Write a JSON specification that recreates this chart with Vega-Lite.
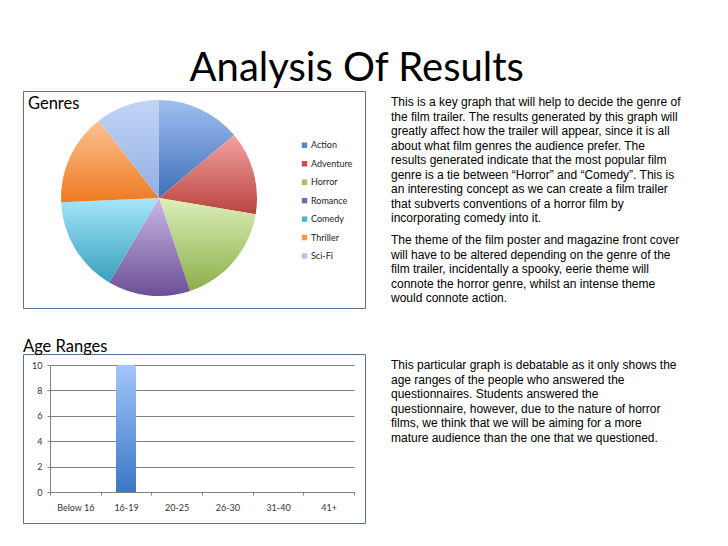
{
  "$schema": "https://vega.github.io/schema/vega-lite/v6.json",
  "background": "white",
  "padding": {"left": 22, "top": 48, "right": 0, "bottom": 0},
  "title": {"text": "Analysis Of Results", "font": "Lato", "fontSize": 40, "fontWeight": "normal", "color": "black", "anchor": "middle", "offset": 2},
  "config": {"view": {"stroke": null}, "font": "Lato"},
  "spacing": 25,
  "hconcat": [
    {
      "spacing": 29,
      "vconcat": [
        {
          "width": 342,
          "height": 217,
          "view": {"stroke": "#5A7190", "strokeWidth": 1},
          "title": {"text": "Genres", "anchor": "start", "frame": "group", "font": "Lato", "fontSize": 16.5, "fontWeight": "normal", "color": "black", "offset": -21, "dx": 5},
          "data": {"values": [
            {"genre": "Action", "value": 50},
            {"genre": "Adventure", "value": 49.5},
            {"genre": "Horror", "value": 62},
            {"genre": "Romance", "value": 49},
            {"genre": "Comedy", "value": 57},
            {"genre": "Thriller", "value": 54.5},
            {"genre": "Sci-Fi", "value": 38}
          ]},
          "transform": [
            {"window": [{"op": "row_number", "as": "rank"}]},
            {"stack": "value", "groupby": [], "sort": [{"field": "rank", "order": "ascending"}], "as": ["v0", "v1"]}
          ],
          "encoding": {
            "theta": {"field": "v0", "type": "quantitative", "scale": {"domain": [0, 360], "nice": false}},
            "theta2": {"field": "v1"}
          },
          "layer": [
            {
              "mark": {"type": "arc", "outerRadius": 98, "xOffset": -35, "yOffset": -1.5, "opacity": 0},
              "encoding": {
                "color": {
                  "field": "genre", "type": "nominal",
                  "sort": ["Action", "Adventure", "Horror", "Romance", "Comedy", "Thriller", "Sci-Fi"],
                  "scale": {
                    "domain": ["Action", "Adventure", "Horror", "Romance", "Comedy", "Thriller", "Sci-Fi"],
                    "range": ["#5A87CA", "#C8504D", "#A3C464", "#8066A8", "#4DB5D5", "#F59A4A", "#AFC5EE"]
                  },
                  "legend": {"title": null, "orient": "none", "legendX": 277, "legendY": 49.8, "symbolType": "square", "symbolSize": 30, "symbolStrokeWidth": 0, "symbolOpacity": 1, "labelFont": "Lato", "labelFontSize": 9, "labelColor": "#222222", "rowPadding": 8.45, "labelOffset": 2}
                }
              }
            },
            {
              "transform": [{"filter": "datum.genre === 'Action'"}],
              "mark": {"type": "arc", "outerRadius": 98, "xOffset": -35, "yOffset": -1.5, "color": {"gradient": "linear", "x1": 0, "y1": 0, "x2": 0, "y2": 1, "stops": [{"offset": 0, "color": "#A0BEF0"}, {"offset": 1, "color": "#3F6FB8"}]}}
            },
            {
              "transform": [{"filter": "datum.genre === 'Adventure'"}],
              "mark": {"type": "arc", "outerRadius": 98, "xOffset": -35, "yOffset": -1.5, "color": {"gradient": "linear", "x1": 0, "y1": 0, "x2": 0, "y2": 1, "stops": [{"offset": 0, "color": "#F3A3A1"}, {"offset": 1, "color": "#B8433F"}]}}
            },
            {
              "transform": [{"filter": "datum.genre === 'Horror'"}],
              "mark": {"type": "arc", "outerRadius": 98, "xOffset": -35, "yOffset": -1.5, "color": {"gradient": "linear", "x1": 0, "y1": 0, "x2": 0, "y2": 1, "stops": [{"offset": 0, "color": "#DCEFB8"}, {"offset": 1, "color": "#8CAF48"}]}}
            },
            {
              "transform": [{"filter": "datum.genre === 'Romance'"}],
              "mark": {"type": "arc", "outerRadius": 98, "xOffset": -35, "yOffset": -1.5, "color": {"gradient": "linear", "x1": 0, "y1": 0, "x2": 0, "y2": 1, "stops": [{"offset": 0, "color": "#C8B8E6"}, {"offset": 1, "color": "#6C4F95"}]}}
            },
            {
              "transform": [{"filter": "datum.genre === 'Comedy'"}],
              "mark": {"type": "arc", "outerRadius": 98, "xOffset": -35, "yOffset": -1.5, "color": {"gradient": "linear", "x1": 0, "y1": 0, "x2": 0, "y2": 1, "stops": [{"offset": 0, "color": "#A5E6FA"}, {"offset": 1, "color": "#37A0BE"}]}}
            },
            {
              "transform": [{"filter": "datum.genre === 'Thriller'"}],
              "mark": {"type": "arc", "outerRadius": 98, "xOffset": -35, "yOffset": -1.5, "color": {"gradient": "linear", "x1": 0, "y1": 0, "x2": 0, "y2": 1, "stops": [{"offset": 0, "color": "#FDC291"}, {"offset": 1, "color": "#EE7A20"}]}}
            },
            {
              "transform": [{"filter": "datum.genre === 'Sci-Fi'"}],
              "mark": {"type": "arc", "outerRadius": 98, "xOffset": -35, "yOffset": -1.5, "color": {"gradient": "linear", "x1": 0, "y1": 0, "x2": 0, "y2": 1, "stops": [{"offset": 0, "color": "#C3D5F6"}, {"offset": 1, "color": "#92AEE4"}]}}
            }
          ]
        },
        {
          "width": 342,
          "height": 169,
          "view": {"stroke": "#5A7190", "strokeWidth": 1},
          "title": {"text": "Age Ranges", "anchor": "start", "frame": "group", "font": "Lato", "fontSize": 16.5, "fontWeight": "normal", "color": "black", "offset": -1, "dx": 0},
          "data": {"values": [
            {"age": "Below 16", "count": 0},
            {"age": "16-19", "count": 10},
            {"age": "20-25", "count": 0},
            {"age": "26-30", "count": 0},
            {"age": "31-40", "count": 0},
            {"age": "41+", "count": 0}
          ]},
          "mark": {
            "type": "bar",
            "width": {"band": 0.4},
            "cornerRadiusTopLeft": 3,
            "cornerRadiusTopRight": 3,
            "color": {"gradient": "linear", "x1": 0, "y1": 0, "x2": 0, "y2": 1, "stops": [{"offset": 0, "color": "#A3C6FA"}, {"offset": 1, "color": "#3A77C6"}]}
          },
          "encoding": {
            "x": {
              "field": "age", "type": "ordinal", "sort": null,
              "scale": {"range": [27, 331], "paddingInner": 0, "paddingOuter": 0},
              "axis": {"title": null, "tickBand": "extent", "offset": -31, "domainColor": "#808080", "tickColor": "#808080", "tickSize": 3, "labelFont": "Lato", "labelFontSize": 9, "labelColor": "#333333", "labelPadding": 8, "labelAngle": 0, "grid": false}
            },
            "y": {
              "field": "count", "type": "quantitative",
              "scale": {"domain": [0, 10], "range": [138, 11], "nice": false},
              "axis": {"title": null, "values": [0, 2, 4, 6, 8, 10], "offset": -27, "grid": true, "gridColor": "#808080", "domainColor": "#808080", "tickColor": "#808080", "tickSize": 3, "labelFont": "Lato", "labelFontSize": 9, "labelColor": "#333333", "labelPadding": 5}
            }
          }
        }
      ]
    },
    {
      "spacing": 54.3,
      "vconcat": [
        {
          "width": 300,
          "height": 1,
          "title": {
            "text": [
              "This is a key graph that will help to decide the genre of",
              "the film trailer. The results generated by this graph will",
              "greatly affect how the trailer will appear, since it is all",
              "about what film genres the audience prefer. The",
              "results generated indicate that the most popular film",
              "genre is a tie between “Horror” and “Comedy”. This is",
              "an interesting concept as we can create a film trailer",
              "that subverts conventions of a horror film by",
              "incorporating comedy into it."
            ],
            "subtitle": [
              "The theme of the film poster and magazine front cover",
              "will have to be altered depending on the genre of the",
              "film trailer, incidentally a spooky, eerie theme will",
              "connote the horror genre, whilst an intense theme",
              "would connote action."
            ],
            "orient": "bottom", "anchor": "start", "frame": "group", "offset": 5,
            "font": "Liberation Sans", "fontSize": 12, "fontWeight": "normal", "color": "black", "lineHeight": 14.5,
            "subtitleFont": "Liberation Sans", "subtitleFontSize": 12, "subtitleColor": "black", "subtitleLineHeight": 14.5, "subtitlePadding": 10
          },
          "data": {"values": []},
          "mark": "text"
        },
        {
          "width": 300,
          "height": 1,
          "title": {
            "text": [
              "This particular graph is debatable as it only shows the",
              "age ranges of the people who answered the",
              "questionnaires. Students answered the",
              "questionnaire, however, due to the nature of horror",
              "films, we think that we will be aiming for a more",
              "mature audience than the one that we questioned."
            ],
            "orient": "bottom", "anchor": "start", "frame": "group", "offset": 1,
            "font": "Liberation Sans", "fontSize": 12, "fontWeight": "normal", "color": "black", "lineHeight": 14.5
          },
          "data": {"values": []},
          "mark": "text"
        }
      ]
    }
  ]
}
